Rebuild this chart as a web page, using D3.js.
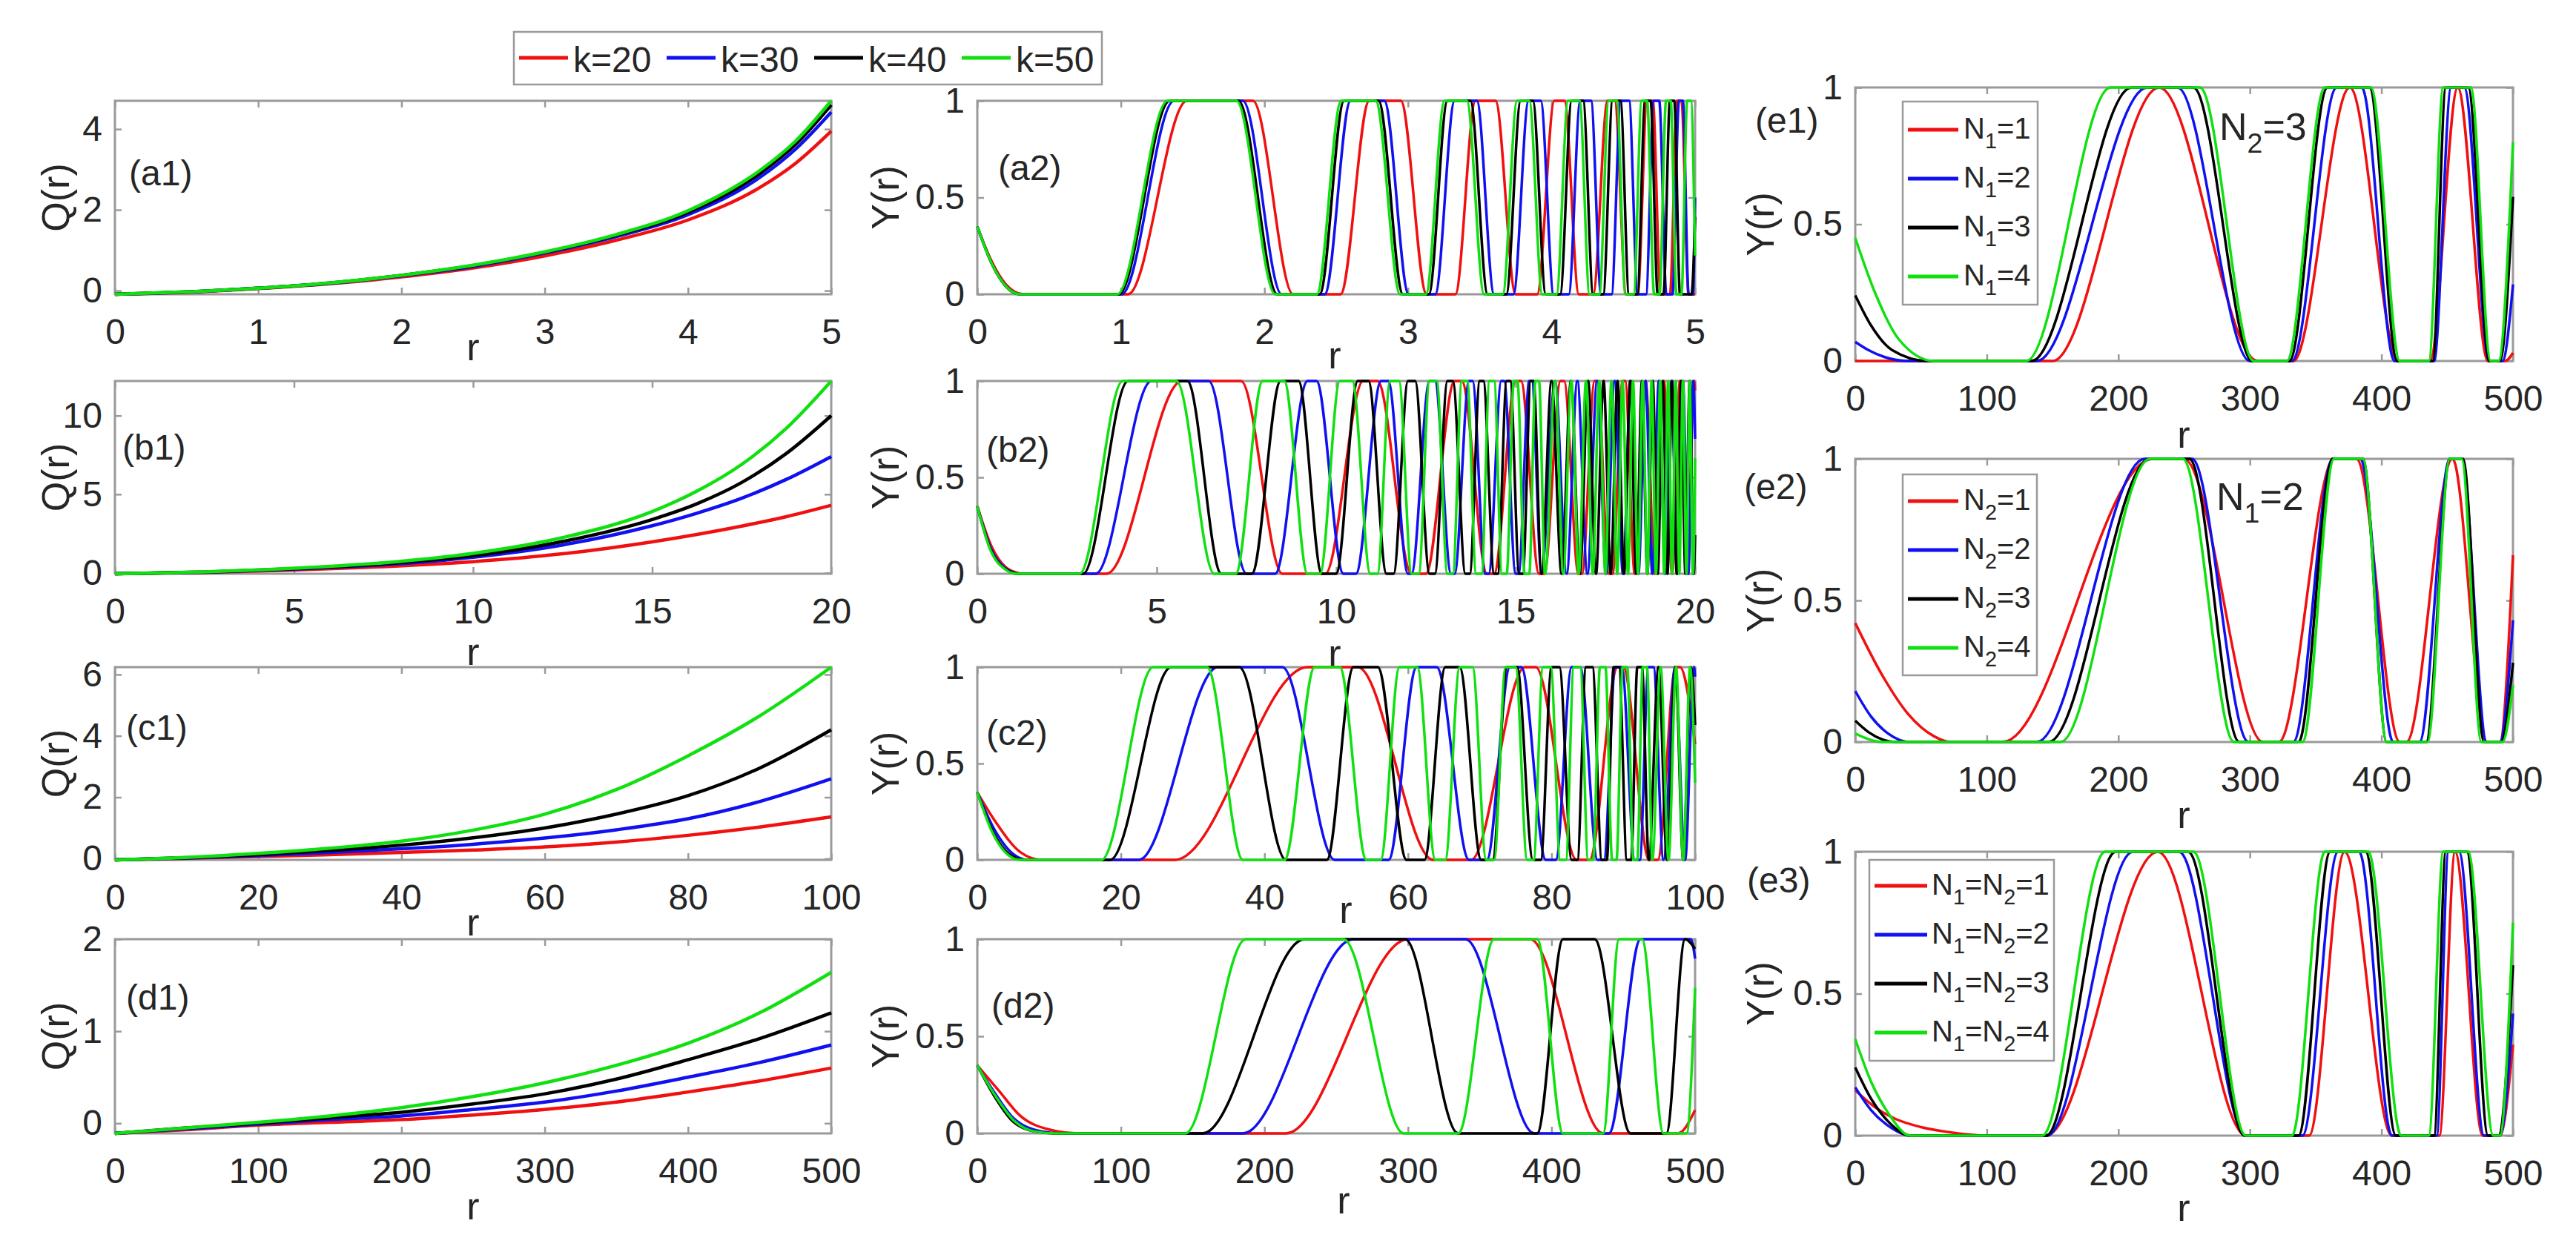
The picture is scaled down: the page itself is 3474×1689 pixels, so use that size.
<!DOCTYPE html>
<html><head><meta charset="utf-8">
<script src="https://cdn.jsdelivr.net/npm/d3@7"></script>
<style>body{margin:0;background:#fff}svg{display:block}text{font-family:"Liberation Sans",Arial,Helvetica,sans-serif}</style>
</head><body><svg id="c" width="3474" height="1689"></svg>
<script>
// ---------------- DATA ----------------
const kLabels = ["k=20","k=30","k=40","k=50"];
const e1Labels = ["N_1=1","N_1=2","N_1=3","N_1=4"];
const e2Labels = ["N_2=1","N_2=2","N_2=3","N_2=4"];
const e3Labels = ["N_1=N_2=1","N_1=N_2=2","N_1=N_2=3","N_1=N_2=4"];
const e1Note = "N_2=3", e2Note = "N_1=2";

const xTicksA=[0,1,2,3,4,5], xTicksB=[0,5,10,15,20], xTicksC=[0,20,40,60,80,100], xTicksD=[0,100,200,300,400,500];
const yTicksA1=[0,2,4], yTicksB1=[0,5,10], yTicksC1=[0,2,4,6], yTicksD1=[0,1,2], yTicksY=[0,0.5,1];

// Q(r) panels: r grid + one array per k (k=20,30,40,50)
const rA1=[0,0.5,1,1.5,2,2.5,3,3.5,4,4.5,4.75,5];
const qA1_k20=[-0.09,-0.04,0.05,0.17,0.34,0.56,0.86,1.25,1.75,2.55,3.15,3.95];
const qA1_k30=[-0.09,-0.035,0.06,0.18,0.37,0.60,0.93,1.34,1.88,2.8,3.5,4.42];
const qA1_k40=[-0.09,-0.03,0.06,0.19,0.38,0.62,0.95,1.37,1.94,2.9,3.62,4.6];
const qA1_k50=[-0.09,-0.03,0.06,0.19,0.38,0.63,0.96,1.39,1.98,2.97,3.7,4.7];

const rB1=[0,2.5,5,7.5,10,12.5,15,16.25,17.5,18.75,20];
const qB1_k20=[-0.05,0.03,0.18,0.4,0.72,1.22,1.98,2.45,2.98,3.58,4.3];
const qB1_k30=[-0.05,0.05,0.24,0.52,1.0,1.78,3.0,3.8,4.75,5.95,7.4];
const qB1_k40=[-0.05,0.06,0.27,0.58,1.1,2.0,3.4,4.4,5.75,7.6,10.0];
const qB1_k50=[-0.05,0.07,0.3,0.65,1.25,2.25,3.9,5.2,6.9,9.2,12.2];

const rC1=[0,10,20,30,40,50,60,70,80,90,100];
const qC1_k20=[-0.04,0.01,0.07,0.13,0.2,0.28,0.38,0.54,0.76,1.03,1.36];
const qC1_k30=[-0.04,0.02,0.1,0.2,0.32,0.47,0.67,0.94,1.3,1.86,2.6];
const qC1_k40=[-0.04,0.03,0.13,0.27,0.44,0.68,1.0,1.45,2.05,2.95,4.2];
const qC1_k50=[-0.04,0.04,0.17,0.34,0.57,0.93,1.45,2.25,3.35,4.65,6.24];

const rD1=[0,50,100,150,200,250,300,350,400,450,500];
const qD1_k20=[-0.11,-0.07,-0.02,0.01,0.04,0.09,0.15,0.23,0.34,0.46,0.6];
const qD1_k30=[-0.11,-0.06,-0.01,0.04,0.08,0.15,0.23,0.35,0.5,0.66,0.85];
const qD1_k40=[-0.11,-0.05,0.0,0.06,0.12,0.21,0.32,0.48,0.69,0.92,1.2];
const qD1_k50=[-0.11,-0.05,0.01,0.08,0.17,0.29,0.44,0.63,0.87,1.2,1.64];

// Y(r) panels: [r, Y] points
const yA2_k20=[[0,0.35],[0.1,0.17],[0.2,0.05],[0.32,0],[1.05,0],[1.46,1],[1.92,1],[2.2,0],[2.53,0],[2.73,1],[2.95,1],[3.13,0],[3.33,0],[3.47,1],[3.61,1],[3.75,0],[3.9,0],[4.02,1],[4.09,1],[4.19,0],[4.29,0],[4.39,1],[4.44,1],[4.52,0],[4.6,0],[4.665,1],[4.705,1],[4.76,0],[4.825,0],[4.875,1],[4.905,1],[4.955,0],[5,0]];
const yA2_k30=[[0,0.35],[0.1,0.16],[0.2,0.04],[0.3,0],[1.005,0],[1.37,1],[1.85,1],[2.12,0],[2.42,0],[2.6,1],[2.835,1],[3.005,0],[3.19,0],[3.325,1],[3.48,1],[3.6,0],[3.735,0],[3.84,1],[3.925,1],[4.015,0],[4.12,0],[4.2,1],[4.275,1],[4.345,0],[4.418,0],[4.482,1],[4.54,1],[4.6,0],[4.658,0],[4.712,1],[4.75,1],[4.8,0],[4.842,0],[4.888,1],[4.915,1],[4.955,0],[4.985,0],[5,0.5]];
const yA2_k40=[[0,0.35],[0.1,0.16],[0.2,0.04],[0.3,0],[0.985,0],[1.34,1],[1.82,1],[2.09,0],[2.385,0],[2.555,1],[2.795,1],[2.965,0],[3.145,0],[3.275,1],[3.435,1],[3.555,0],[3.685,0],[3.785,1],[3.87,1],[3.96,0],[4.06,0],[4.14,1],[4.22,1],[4.29,0],[4.36,0],[4.425,1],[4.48,1],[4.54,0],[4.598,0],[4.652,1],[4.69,1],[4.74,0],[4.78,0],[4.825,1],[4.855,1],[4.895,0],[4.975,0],[5,0.4]];
const yA2_k50=[[0,0.35],[0.1,0.16],[0.2,0.04],[0.3,0],[0.975,0],[1.325,1],[1.805,1],[2.075,0],[2.365,0],[2.535,1],[2.775,1],[2.945,0],[3.125,0],[3.255,1],[3.41,1],[3.53,0],[3.66,0],[3.76,1],[3.845,1],[3.935,0],[4.035,0],[4.115,1],[4.195,1],[4.265,0],[4.333,0],[4.398,1],[4.455,1],[4.515,0],[4.572,0],[4.628,1],[4.665,1],[4.715,0],[4.752,0],[4.798,1],[4.83,1],[4.87,0],[4.905,0],[4.945,1],[4.97,1],[5,0.2]];

const yB2_k20=[[0,0.35],[0.4,0.14],[0.9,0.02],[1.3,0],[3.6,0],[5.7,1],[7.35,1],[8.5,0],[9.7,0],[10.75,1],[11.15,1],[12.1,0],[12.5,0],[13.3,1],[13.5,1],[14.2,0],[14.4,0],[15.0,1],[15.15,1],[15.65,0],[15.8,0],[16.25,1],[16.35,1],[16.75,0],[16.85,0],[17.2,1],[17.28,1],[17.6,0],[17.7,0],[17.98,1],[18.05,1],[18.32,0],[18.62,1],[18.88,0],[19.13,1],[19.36,0],[19.58,1],[19.78,0],[19.97,1],[20,0.95]];
const yB2_k30=[[0,0.35],[0.38,0.13],[0.85,0.02],[1.2,0],[3.3,0],[4.85,1],[6.45,1],[7.5,0],[8.3,0],[9.2,1],[9.45,1],[10.2,0],[10.55,0],[11.25,1],[11.45,1],[12.0,0],[12.1,0],[12.6,1],[12.75,1],[13.2,0],[13.3,0],[13.7,1],[13.8,1],[14.15,0],[14.25,0],[14.6,1],[14.68,1],[15.0,0],[15.08,0],[15.38,1],[15.45,1],[15.72,0],[16.1,1],[16.42,0],[16.72,1],[17.0,0],[17.27,1],[17.52,0],[17.76,1],[17.99,0],[18.21,1],[18.42,0],[18.62,1],[18.81,0],[18.99,1],[19.17,0],[19.34,1],[19.5,0],[19.66,1],[19.81,0],[19.95,1],[20,0.7]];
const yB2_k40=[[0,0.35],[0.36,0.13],[0.82,0.02],[1.15,0],[2.95,0],[4.2,1],[5.85,1],[6.8,0],[7.65,0],[8.45,1],[8.95,1],[9.6,0],[10.0,0],[10.6,1],[10.9,1],[11.4,0],[11.6,0],[12.0,1],[12.2,1],[12.6,0],[12.75,0],[13.1,1],[13.25,1],[13.6,0],[13.72,0],[14.0,1],[14.1,1],[14.4,0],[14.5,0],[14.75,1],[14.85,1],[15.1,0],[15.2,0],[15.42,1],[15.5,1],[15.72,0],[16.0,1],[16.28,0],[16.54,1],[16.79,0],[17.02,1],[17.24,0],[17.45,1],[17.65,0],[17.84,1],[18.02,0],[18.19,1],[18.36,0],[18.52,1],[18.67,0],[18.82,1],[18.96,0],[19.1,1],[19.23,0],[19.36,1],[19.49,0],[19.61,1],[19.73,0],[19.85,1],[19.96,0],[20,0.2]];
const yB2_k50=[[0,0.35],[0.35,0.13],[0.8,0.02],[1.1,0],[2.85,0],[4.05,1],[5.55,1],[6.6,0],[7.2,0],[7.95,1],[8.55,1],[9.2,0],[9.55,0],[10.1,1],[10.45,1],[10.95,0],[11.15,0],[11.5,1],[11.75,1],[12.1,0],[12.3,0],[12.6,1],[12.8,1],[13.1,0],[13.25,0],[13.5,1],[13.65,1],[13.9,0],[14.05,0],[14.27,1],[14.4,1],[14.62,0],[14.75,0],[14.95,1],[15.05,1],[15.25,0],[15.38,0],[15.55,1],[15.65,1],[15.82,0],[16.1,1],[16.33,0],[16.55,1],[16.76,0],[16.96,1],[17.15,0],[17.33,1],[17.5,0],[17.67,1],[17.83,0],[17.98,1],[18.13,0],[18.27,1],[18.41,0],[18.54,1],[18.67,0],[18.79,1],[18.91,0],[19.03,1],[19.14,0],[19.25,1],[19.36,0],[19.46,1],[19.56,0],[19.66,1],[19.76,0],[19.85,1],[19.94,0],[20,0.6]];

const yC2_k20=[[0,0.35],[2.5,0.2],[6,0.04],[9,0],[27.5,0],[46.0,1],[53.0,1],[63.5,0],[68.8,0],[76.3,1],[77.8,1],[83.5,0],[85.3,0],[89.2,1],[90.0,1],[93.6,0],[94.8,0],[97.3,1],[97.9,1],[100,0.6]];
const yC2_k30=[[0,0.35],[2.2,0.17],[5,0.03],[7,0],[22.5,0],[33.5,1],[42.5,1],[49.8,0],[57.3,0],[61.2,1],[64.0,1],[68.5,0],[71.0,0],[74.2,1],[75.8,1],[79.2,0],[80.6,0],[82.8,1],[84.0,1],[86.4,0],[87.3,0],[88.9,1],[89.8,1],[91.6,0],[92.3,0],[93.5,1],[94.2,1],[95.6,0],[97.2,1],[98.6,0],[99.85,1],[100,0.95]];
const yC2_k40=[[0,0.35],[2,0.16],[4.8,0.02],[6.5,0],[18.5,0],[27.0,1],[36.5,1],[43.0,0],[48.7,0],[52.4,1],[55.8,1],[59.8,0],[62.3,0],[65.2,1],[67.2,1],[70.2,0],[71.8,0],[73.8,1],[75.2,1],[77.4,0],[78.5,0],[80.0,1],[81.1,1],[82.8,0],[83.6,0],[84.8,1],[85.7,1],[87.0,0],[87.7,0],[88.65,1],[89.4,1],[90.5,0],[91.1,0],[91.95,1],[92.6,1],[93.55,0],[94.9,1],[96.1,0],[97.25,1],[98.35,0],[99.4,1],[100,0.7]];
const yC2_k50=[[0,0.35],[2,0.15],[4.5,0.02],[6,0],[17.3,0],[24.5,1],[32.0,1],[37.0,0],[42.8,0],[47.0,1],[50.5,1],[54.2,0],[56.2,0],[58.8,1],[61.3,1],[63.8,0],[65.2,0],[67.2,1],[69.0,1],[70.9,0],[72.0,0],[73.6,1],[75.0,1],[76.6,0],[77.5,0],[78.8,1],[79.9,1],[81.2,0],[82.0,0],[83.1,1],[84.0,1],[85.1,0],[85.8,0],[86.75,1],[87.5,1],[88.45,0],[89.05,0],[89.9,1],[90.55,1],[91.4,0],[91.95,0],[92.7,1],[93.3,1],[94.05,0],[95.2,1],[96.3,0],[97.35,1],[98.35,0],[99.3,1],[100,0.4]];

const yD2_k20=[[0,0.35],[15,0.22],[30,0.09],[50,0.02],[70,0],[215,0],[300,1],[385,1],[436,0],[488,0],[500,0.12]];
const yD2_k30=[[0,0.35],[12,0.21],[25,0.08],[45,0.01],[60,0],[185,0],[262,1],[340,1],[388,0],[440,0],[462,1],[497,1],[500,0.9]];
const yD2_k40=[[0,0.35],[12,0.19],[25,0.06],[40,0.01],[55,0],[157,0],[228,1],[298,1],[335,0],[390,0],[408,1],[430,1],[455,0],[480,0],[493,1],[500,0.95]];
const yD2_k50=[[0,0.35],[12,0.2],[25,0.07],[40,0.01],[55,0],[145,0],[187,1],[255,1],[297,0],[335,0],[360,1],[390,1],[408,0],[436,0],[447,1],[463,1],[478,0],[494,0],[500,0.75]];

const yE1_n1=[[0,0],[150,0],[231,1],[306,0],[333,0],[376,1],[413,0],[437,0],[458,1],[481,0],[494,0],[500,0.03]];
const yE1_n2=[[0,0.07],[10,0.04],[22,0.015],[40,0],[138,0],[222,1],[245,1],[300,0],[332,0],[366,1],[385,1],[410,0],[440,0],[453,1],[463,1],[482,0],[492,0],[500,0.28]];
const yE1_n3=[[0,0.24],[12,0.13],[28,0.04],[55,0],[134,0],[210,1],[257,1],[302,0],[330,0],[359,1],[391,1],[412,0],[439,0],[449,1],[466,1],[482,0],[490,0],[500,0.6]];
const yE1_n4=[[0,0.45],[15,0.25],[33,0.08],[60,0],[130,0],[194,1],[262,1],[303,0],[328,0],[357,1],[392,1],[414,0],[436,0],[447,1],[468,1],[483,0],[489,0],[500,0.8]];

const yE2_n1=[[0,0.42],[20,0.24],[40,0.1],[60,0.02],[72,0],[112,0],[226,1],[250,1],[310,0],[322,0],[364,1],[381,1],[414,0],[419,0],[454,1],[480,0],[490,0],[500,0.66]];
const yE2_n2=[[0,0.18],[12,0.09],[25,0.03],[42,0],[138,0],[220,1],[256,1],[299,0],[333,0],[363,1],[384,1],[409,0],[429,0],[452,1],[461,1],[480,0],[490,0],[500,0.43]];
const yE2_n3=[[0,0.075],[10,0.035],[20,0.01],[30,0],[147,0],[224,1],[254,1],[292,0],[337,0],[363,1],[386,1],[404,0],[434,0],[452,1],[462,1],[478,0],[491,0],[500,0.28]];
const yE2_n4=[[0,0.03],[10,0.01],[20,0],[156,0],[224,1],[249,1],[288,0],[340,0],[364,1],[386,1],[404,0],[435,0],[452,1],[461,1],[476,0],[492,0],[500,0.2]];

const yE3_n1=[[0,0.16],[15,0.1],[30,0.06],[50,0.03],[75,0.01],[100,0],[145,0],[230,1],[297,0],[345,0],[372,1],[408,0],[444,0],[456,1],[477,0],[490,0],[500,0.32]];
const yE3_n2=[[0,0.17],[12,0.09],[25,0.035],[42,0],[146,0],[211,1],[246,1],[297,0],[340,0],[367,1],[383,1],[408,0],[442,0],[451,1],[459,1],[478,0],[490,0],[500,0.43]];
const yE3_n3=[[0,0.24],[12,0.13],[25,0.05],[42,0],[145,0],[198,1],[253,1],[296,0],[337,0],[361,1],[388,1],[411,0],[440,0],[449,1],[465,1],[481,0],[489,0],[500,0.6]];
const yE3_n4=[[0,0.34],[12,0.19],[25,0.08],[42,0],[142,0],[190,1],[257,1],[297,0],[332,0],[357,1],[390,1],[415,0],[436,0],[447,1],[466,1],[485,0],[490,0],[500,0.75]];

// ---------------- STYLE / LAYOUT ----------------
const colors=["#f01010","#1010f0","#000000","#10e010"];
const axisColor="#9a9a9a", textColor="#262626";
const FONT_TICK=48, FONT_LABEL=52, FONT_PANEL=48;
const fmt=d=>String(d);

const zipQ=(r,q)=>r.map((v,i)=>[v,q[i]]);
const panels=[
 {name:"(a1)",box:[155,1121,136,397],xd:[0,5],yd:[-0.09,4.7],xt:xTicksA,yt:yTicksA1,series:[zipQ(rA1,qA1_k20),zipQ(rA1,qA1_k30),zipQ(rA1,qA1_k40),zipQ(rA1,qA1_k50)],yl:"Q(r)",ylx:93,xlx:638,xly:486,lab:[174,250],lw:4.5},
 {name:"(b1)",box:[155,1121,514,774],xd:[0,20],yd:[-0.05,12.2],xt:xTicksB,yt:yTicksB1,series:[zipQ(rB1,qB1_k20),zipQ(rB1,qB1_k30),zipQ(rB1,qB1_k40),zipQ(rB1,qB1_k50)],yl:"Q(r)",ylx:93,xlx:638,xly:897,lab:[165,620],lw:4.5},
 {name:"(c1)",box:[155,1121,900,1160],xd:[0,100],yd:[-0.04,6.24],xt:xTicksC,yt:yTicksC1,series:[zipQ(rC1,qC1_k20),zipQ(rC1,qC1_k30),zipQ(rC1,qC1_k40),zipQ(rC1,qC1_k50)],yl:"Q(r)",ylx:93,xlx:638,xly:1262,lab:[170,998],lw:4.5},
 {name:"(d1)",box:[155,1121,1267,1529],xd:[0,500],yd:[-0.11,2],xt:xTicksD,yt:yTicksD1,series:[zipQ(rD1,qD1_k20),zipQ(rD1,qD1_k30),zipQ(rD1,qD1_k40),zipQ(rD1,qD1_k50)],yl:"Q(r)",ylx:93,xlx:638,xly:1645,lab:[170,1362],lw:4.5},
 {name:"(a2)",box:[1318,2286,136,397],xd:[0,5],yd:[0,1],xt:xTicksA,yt:yTicksY,series:[yA2_k20,yA2_k30,yA2_k40,yA2_k50],yl:"Y(r)",ylx:1212,xlx:1800,xly:497,lab:[1346,243],lw:3.5},
 {name:"(b2)",box:[1318,2286,514,774],xd:[0,20],yd:[0,1],xt:xTicksB,yt:yTicksY,series:[yB2_k20,yB2_k30,yB2_k40,yB2_k50],yl:"Y(r)",ylx:1212,xlx:1800,xly:899,lab:[1330,623],lw:3.5},
 {name:"(c2)",box:[1318,2286,900,1160],xd:[0,100],yd:[0,1],xt:xTicksC,yt:yTicksY,series:[yC2_k20,yC2_k30,yC2_k40,yC2_k50],yl:"Y(r)",ylx:1212,xlx:1815,xly:1245,lab:[1330,1005],lw:3.5},
 {name:"(d2)",box:[1318,2286,1267,1529],xd:[0,500],yd:[0,1],xt:xTicksD,yt:yTicksY,series:[yD2_k20,yD2_k30,yD2_k40,yD2_k50],yl:"Y(r)",ylx:1212,xlx:1812,xly:1637,lab:[1337,1373],lw:3.5},
 {name:"(e1)",box:[2502,3389,118,487],xd:[0,500],yd:[0,1],xt:xTicksD,yt:yTicksY,series:[yE1_n1,yE1_n2,yE1_n3,yE1_n4],yl:"Y(r)",ylx:2392,xlx:2945,xly:604,lab:[2367,179],lw:3.5,
   legend:{labels:e1Labels,box:[2566,2748,137,411],y0:175,lx:[2573,2641],tx:2648},note:{text:e1Note,x:2993,y:189}},
 {name:"(e2)",box:[2502,3389,619,1001],xd:[0,500],yd:[0,1],xt:xTicksD,yt:yTicksY,series:[yE2_n1,yE2_n2,yE2_n3,yE2_n4],yl:"Y(r)",ylx:2392,xlx:2945,xly:1117,lab:[2352,673],lw:3.5,
   legend:{labels:e2Labels,box:[2566,2747,640,911],y0:676,lx:[2573,2641],tx:2648},note:{text:e2Note,x:2989,y:688}},
 {name:"(e3)",box:[2502,3389,1149,1532],xd:[0,500],yd:[0,1],xt:xTicksD,yt:yTicksY,series:[yE3_n1,yE3_n2,yE3_n3,yE3_n4],yl:"Y(r)",ylx:2392,xlx:2945,xly:1647,lab:[2356,1204],lw:3.5,
   legend:{labels:e3Labels,box:[2521,2770,1160,1431],y0:1195,lx:[2528,2599],tx:2605}}
];

const svg=d3.select("#c");
svg.append("rect").attr("width",3474).attr("height",1689).attr("fill","#fff");

function rich(sel,str,fs){
  const parts=str.split(/_(\d)/);
  let prevSub=false;
  parts.forEach((p,i)=>{
    if(p==="")return;
    const sub=i%2===1;
    const t=sel.append("tspan").text(p);
    if(sub){t.attr("font-size",fs*0.72).attr("dy",fs*0.32);}
    else if(prevSub){t.attr("dy",-fs*0.32);}
    prevSub=sub;
  });
}

panels.forEach((p,pi)=>{
  const [x0,x1,y0,y1]=p.box;
  const x=d3.scaleLinear().domain(p.xd).range([x0,x1]);
  const y=d3.scaleLinear().domain(p.yd).range([y1,y0]);
  const g=svg.append("g");
  g.append("rect").attr("x",x0).attr("y",y0).attr("width",x1-x0).attr("height",y1-y0)
    .attr("fill","#fff").attr("stroke",axisColor).attr("stroke-width",3);
  const style=(sel)=>{
    sel.select(".domain").remove();
    sel.selectAll(".tick line").attr("stroke",axisColor).attr("stroke-width",2.5);
    sel.selectAll(".tick text").attr("fill",textColor).attr("font-size",FONT_TICK)
      .attr("font-family","'Liberation Sans',Arial,sans-serif");
  };
  g.append("g").attr("transform",`translate(0,${y1})`)
    .call(d3.axisBottom(x).tickValues(p.xt).tickFormat(fmt).tickSizeInner(-9).tickSizeOuter(0).tickPadding(33)).call(style);
  g.append("g").attr("transform",`translate(0,${y0})`)
    .call(d3.axisTop(x).tickValues(p.xt).tickSizeInner(-9).tickSizeOuter(0).tickFormat("")).call(style);
  g.append("g").attr("transform",`translate(${x0},0)`)
    .call(d3.axisLeft(y).tickValues(p.yt).tickFormat(fmt).tickSizeInner(-9).tickSizeOuter(0).tickPadding(17)).call(style);
  g.append("g").attr("transform",`translate(${x1},0)`)
    .call(d3.axisRight(y).tickValues(p.yt).tickSizeInner(-9).tickSizeOuter(0).tickFormat("")).call(style);
  const cid="clip"+pi;
  svg.append("clipPath").attr("id",cid).append("rect")
    .attr("x",x0-3).attr("y",y0-4).attr("width",x1-x0+6).attr("height",y1-y0+8);
  const line=d3.line().x(d=>x(d[0])).y(d=>y(d[1])).curve(d3.curveMonotoneX);
  const lg=g.append("g").attr("clip-path",`url(#${cid})`);
  p.series.forEach((s,i)=>{
    lg.append("path").datum(s).attr("d",line).attr("fill","none")
      .attr("stroke",colors[i]).attr("stroke-width",p.lw).attr("stroke-linejoin","round");
  });
  g.append("text").attr("x",p.xlx).attr("y",p.xly).attr("text-anchor","middle")
    .attr("font-size",FONT_LABEL).attr("fill",textColor).text("r");
  g.append("text").attr("transform",`translate(${p.ylx},${(y0+y1)/2}) rotate(-90)`)
    .attr("text-anchor","middle").attr("font-size",FONT_LABEL).attr("fill",textColor).text(p.yl);
  g.append("text").attr("x",p.lab[0]).attr("y",p.lab[1]).attr("font-size",FONT_PANEL)
    .attr("fill",textColor).text(p.name);
  if(p.legend){
    const L=p.legend;
    g.append("rect").attr("x",L.box[0]).attr("y",L.box[2]).attr("width",L.box[1]-L.box[0]).attr("height",L.box[3]-L.box[2])
      .attr("fill","#fff").attr("stroke",axisColor).attr("stroke-width",2.5);
    L.labels.forEach((lab,i)=>{
      const yy=L.y0+i*66;
      g.append("line").attr("x1",L.lx[0]).attr("x2",L.lx[1]).attr("y1",yy).attr("y2",yy)
        .attr("stroke",colors[i]).attr("stroke-width",5);
      const t=g.append("text").attr("x",L.tx).attr("y",yy+12).attr("font-size",40).attr("fill",textColor);
      rich(t,lab,40);
    });
  }
  if(p.note){
    const t=g.append("text").attr("x",p.note.x).attr("y",p.note.y).attr("font-size",52).attr("fill",textColor);
    rich(t,p.note.text,52);
  }
});

const lgd=svg.append("g");
lgd.append("rect").attr("x",693).attr("y",43).attr("width",793).attr("height",71)
  .attr("fill","#fff").attr("stroke",axisColor).attr("stroke-width",2.5);
kLabels.forEach((k,i)=>{
  const lx=700+i*199;
  lgd.append("line").attr("x1",lx).attr("x2",lx+66).attr("y1",78).attr("y2",78)
    .attr("stroke",colors[i]).attr("stroke-width",5);
  lgd.append("text").attr("x",lx+73).attr("y",97).attr("font-size",48).attr("fill",textColor).text(k);
});
</script></body></html>
